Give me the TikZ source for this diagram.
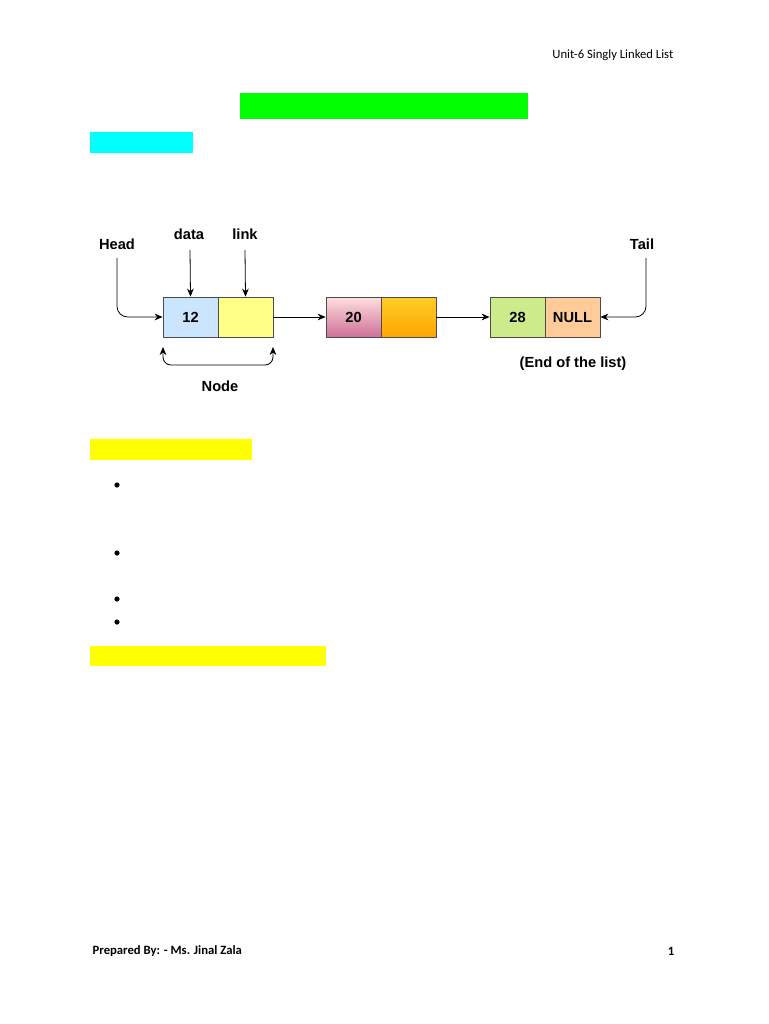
\documentclass[tikz,border=0pt]{standalone}
\usepackage{fontspec}
\setmainfont{Carlito}
\newfontfamily\arl{Liberation Sans}
\usetikzlibrary{arrows.meta}
\definecolor{cblue}{HTML}{CCE5FF}
\definecolor{cyel}{HTML}{FFFF88}
\definecolor{cgreen}{HTML}{CDEB8B}
\definecolor{cpeach}{HTML}{FFCC99}
\definecolor{hcyan}{HTML}{00FFFF}
\definecolor{hyel}{HTML}{FFFF00}
\definecolor{hgreen}{HTML}{00FF00}
\tikzset{
 cell/.style={draw=black!70,line width=0.6pt,minimum width=55*0.75pt,minimum height=40*0.75pt,inner sep=0pt,text height=8pt,text depth=0pt,font=\arl\bfseries\fontsize{11}{13}\selectfont},
 lbl/.style={font=\arl\bfseries\fontsize{11}{13}\selectfont},
 tip/.style={Stealth[length=6pt,width=5pt]},
 arr/.style={-{Stealth[length=6pt,width=5pt]},line width=0.6pt,rounded corners=8pt},
}
\begin{document}
\begin{tikzpicture}[x=0.75pt,y=-0.75pt]
\useasboundingbox (0,0) rectangle (768,1024);
\fill[white] (0,0) rectangle (768,1024);
\node[anchor=east,font=\fontsize{9.5}{11}\selectfont] (hdr) at (678,55) {Unit-6 Singly Linked List};
\fill[hgreen] (240,93) rectangle (528,119);
\fill[hcyan] (90,132) rectangle (193,153);
\fill[hyel] (90,439) rectangle (252,460);
\fill[hyel] (90,646) rectangle (326,666);
\foreach \y in {485,553,599,622} \fill (117,\y) circle (2.6);
% nodes
\node[cell,fill=cblue] (d1) at (190.5,317) {12};
\node[cell,fill=cyel] (l1) at (245.5,317) {};
\node[cell,top color=pink!50!white,bottom color={rgb,255:red,205;green,112;blue,151}] (d2) at (353.5,317) {20};
\node[cell,top color={rgb,255:red,255;green,205;blue,40},bottom color={rgb,255:red,255;green,165;blue,0}] (l2) at (408.5,317) {};
\node[cell,fill=cgreen] (d3) at (517.5,317) {28};
\node[cell,fill=cpeach] (l3) at (572.5,317) {NULL};
\node[lbl] (head) at (117,244) {Head};
\node[lbl] (data) at (189,234) {data};
\node[lbl] (link) at (245,234) {link};
\node[lbl] (tail) at (642,244) {Tail};
\node[lbl] (nodel) at (220,386) {Node};
\node[lbl] (end) at (573,364) {(End of the list)};
\draw[arr] (117,258) |- (d1.west);
\draw[arr] (190,250) -- (d1.north);
\draw[arr] (245,250) -- (l1.north);
\draw[arr] (646,258) |- (l3.east);
\draw[arr] (l1.east) -- (d2.west);
\draw[arr] (l2.east) -- (d3.west);
\coordinate (b1) at (163,347);
\coordinate (b2) at (273,347);
\draw[line width=0.6pt,rounded corners=6pt,{Stealth[length=6pt,width=5pt]}-{Stealth[length=6pt,width=5pt]}] (b1) -- (163,365) -- (273,365) -- (b2);
\node[anchor=west,font=\bfseries\fontsize{9.5}{11}\selectfont] (ftr) at (88,951) {Prepared By: - Ms. Jinal Zala};
\node[anchor=east,font=\bfseries\fontsize{9.5}{11}\selectfont] (pg) at (679,951) {1};
\end{tikzpicture}
\end{document}
